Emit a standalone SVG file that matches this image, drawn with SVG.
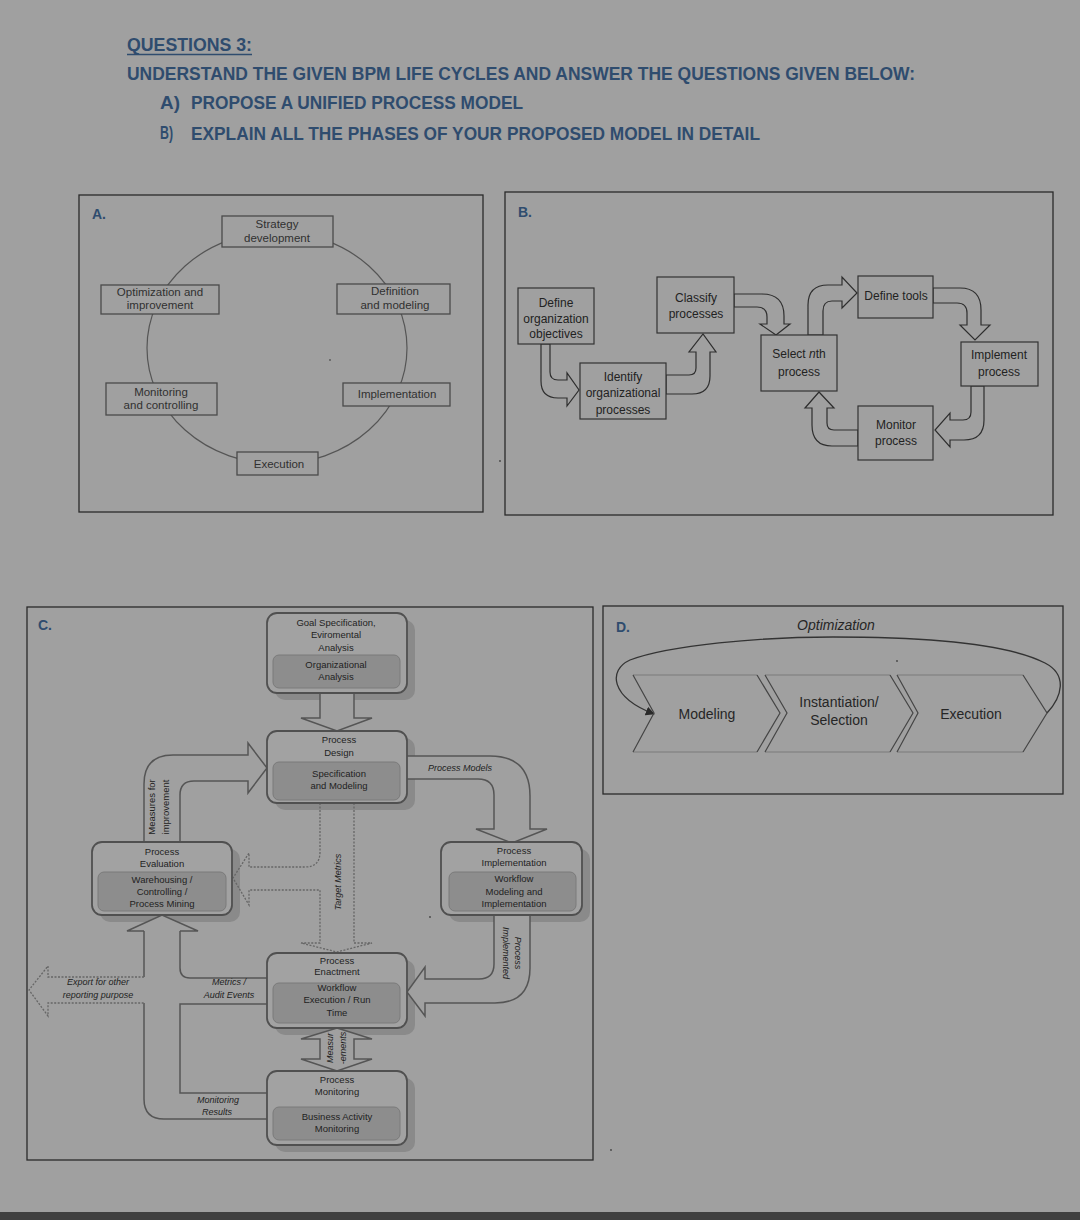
<svg xmlns="http://www.w3.org/2000/svg" width="1080" height="1220" viewBox="0 0 1080 1220">
<style>
.hd{font-family:"Liberation Sans",Arial,sans-serif;font-weight:700;fill:#2f4c6e;font-size:19px}
.lbl{font-family:"Liberation Sans",Arial,sans-serif;font-weight:700;fill:#2f4c6e;font-size:14px}
.frame{fill:none;stroke:#2a2a2a;stroke-width:1.3}
.abox{fill:#a0a0a0;stroke:#4a4a4a;stroke-width:1.3}
.at{font-family:"Liberation Sans",Arial,sans-serif;font-size:11.5px;fill:#303030;text-anchor:middle}
.bbox{fill:#a0a0a0;stroke:#333;stroke-width:1.2}
.bt{font-family:"Liberation Sans",Arial,sans-serif;font-size:12px;fill:#222;text-anchor:middle}
.barr{fill:#a0a0a0;stroke:#2e2e2e;stroke-width:1.2;stroke-linejoin:miter}
.cbox{fill:#a2a2a2;stroke:#505050;stroke-width:1.8}
.cin{fill:#8d8d8d;stroke:#7a7a7a;stroke-width:1}
.csh{fill:#8a8a8a}
.ct{font-family:"Liberation Sans",Arial,sans-serif;font-size:9.5px;fill:#222;text-anchor:middle}
.cti{font-family:"Liberation Sans",Arial,sans-serif;font-size:9px;font-style:italic;fill:#222;text-anchor:middle}
.carr{fill:#a0a0a0;stroke:#555;stroke-width:1.5;stroke-linejoin:miter}
.cline{fill:none;stroke:#555;stroke-width:1.5}
.cdash{fill:none;stroke:#666;stroke-width:1.3;stroke-dasharray:2 1.5}
.dchev{fill:none;stroke:#454545;stroke-width:1.2}
.dedge{fill:none;stroke:#7a7a7a;stroke-width:1}
.dt{font-family:"Liberation Sans",Arial,sans-serif;font-size:14px;fill:#262626;text-anchor:middle}
</style>
<defs>
<marker id="dh" viewBox="0 0 10 10" refX="9" refY="5" markerWidth="7" markerHeight="7" orient="auto">
<path d="M0,0 L10,5 L0,10 Z" fill="#2a2a2a"/>
</marker>
</defs>
<rect x="0" y="0" width="1080" height="1220" fill="#a0a0a0"/>
<rect x="0" y="1212" width="1080" height="8" fill="#404040"/>

<!-- Header -->
<g id="header">
<text class="hd" x="127" y="51" textLength="125" lengthAdjust="spacingAndGlyphs">QUESTIONS 3:</text>
<line x1="127" y1="54.5" x2="252" y2="54.5" stroke="#2f4c6e" stroke-width="1.3"/>
<text class="hd" x="127" y="80" textLength="788" lengthAdjust="spacingAndGlyphs">UNDERSTAND THE GIVEN BPM LIFE CYCLES AND ANSWER THE QUESTIONS GIVEN BELOW:</text>
<text class="hd" x="160" y="109" textLength="20" lengthAdjust="spacingAndGlyphs">A)</text>
<text class="hd" x="191" y="109" textLength="332" lengthAdjust="spacingAndGlyphs">PROPOSE A UNIFIED PROCESS MODEL</text>
<text class="hd" x="160" y="139" font-size="13" font-weight="400" textLength="13" lengthAdjust="spacingAndGlyphs">B)</text>
<text class="hd" x="191" y="140" textLength="569" lengthAdjust="spacingAndGlyphs">EXPLAIN ALL THE PHASES OF YOUR PROPOSED MODEL IN DETAIL</text>
</g>

<!-- Panel A -->
<g id="panelA">
<rect class="frame" x="79" y="195" width="404" height="317"/>
<text class="lbl" x="92" y="219">A.</text>
<g id="connectorsA">
<ellipse cx="277" cy="348" rx="130" ry="116" fill="none" stroke="#555" stroke-width="1.2"/>
</g>
<circle cx="330" cy="360" r="0.9" fill="#555"/>
<g id="a-strategy"><rect class="abox" x="222" y="216" width="111" height="31"/><text class="at" x="277" y="228">Strategy</text><text class="at" x="277" y="242">development</text></g>
<g id="a-definition"><rect class="abox" x="337" y="284" width="113" height="30"/><text class="at" x="395" y="295">Definition</text><text class="at" x="395" y="309">and modeling</text></g>
<g id="a-implementation"><rect class="abox" x="343" y="383" width="107" height="23"/><text class="at" x="397" y="398">Implementation</text></g>
<g id="a-execution"><rect class="abox" x="237" y="452" width="81" height="23"/><text class="at" x="279" y="468">Execution</text></g>
<g id="a-monitoring"><rect class="abox" x="106" y="383" width="111" height="32"/><text class="at" x="161" y="396">Monitoring</text><text class="at" x="161" y="409">and controlling</text></g>
<g id="a-optimization"><rect class="abox" x="101" y="285" width="118" height="29"/><text class="at" x="160" y="296">Optimization and</text><text class="at" x="160" y="309">improvement</text></g>
</g>

<circle cx="500" cy="461" r="0.9" fill="#444"/>

<!-- Panel B -->
<g id="panelB">
<rect class="frame" x="505" y="192" width="548" height="323"/>
<text class="lbl" x="518" y="217">B.</text>
<g id="connectorsB">
<path class="barr" d="M550,344 L550,372 Q550,380 558,380 L567,380 L567,373 L579,390 L567,406 L567,398 L558,398 Q541,398 541,381 L541,344 Z"/>
<path class="barr" d="M666,375 L689,375 Q696,375 696,368 L696,352 L689,352 L703,334 L716,352 L710,352 L710,376 Q710,394 692,394 L666,394 Z"/>
<path class="barr" d="M734,294 L762,294 Q784,294 784,316 L784,324 L790,324 L776,335 L760,324 L767,324 L767,317 Q767,307 757,307 L734,307 Z"/>
<path class="barr" d="M808,335 L808,305 Q808,285 828,285 L842,285 L842,277 L857,293 L842,308 L842,301 L832,301 Q823,301 823,311 L823,335 Z"/>
<path class="barr" d="M933,288 L960,288 Q981,288 981,310 L981,325 L990,325 L975,340 L960,325 L967,325 L967,313 Q967,303 957,303 L933,303 Z"/>
<path class="barr" d="M971,386 L971,412 Q971,420 963,420 L950,420 L950,413 L935,430 L950,447 L950,440 L964,440 Q984,440 984,420 L984,386 Z"/>
<path class="barr" d="M858,430 L834,430 Q827,430 827,423 L827,408 L834,408 L819,392 L805,408 L812,408 L812,425 Q812,446 832,446 L858,446 Z"/>
</g>
<g id="b-define"><rect class="bbox" x="518" y="288" width="76" height="56"/><text class="bt" x="556" y="307">Define</text><text class="bt" x="556" y="323">organization</text><text class="bt" x="556" y="338">objectives</text></g>
<g id="b-identify"><rect class="bbox" x="580" y="363" width="86" height="56"/><text class="bt" x="623" y="381">Identify</text><text class="bt" x="623" y="397">organizational</text><text class="bt" x="623" y="414">processes</text></g>
<g id="b-classify"><rect class="bbox" x="657" y="277" width="77" height="56"/><text class="bt" x="696" y="302">Classify</text><text class="bt" x="696" y="318">processes</text></g>
<g id="b-select"><rect class="bbox" x="761" y="335" width="76" height="56"/><text class="bt" x="799" y="358">Select <tspan font-style="italic">n</tspan>th</text><text class="bt" x="799" y="376">process</text></g>
<g id="b-tools"><rect class="bbox" x="858" y="276" width="75" height="42"/><text class="bt" x="896" y="300">Define tools</text></g>
<g id="b-implement"><rect class="bbox" x="961" y="342" width="77" height="44"/><text class="bt" x="999" y="359">Implement</text><text class="bt" x="999" y="376">process</text></g>
<g id="b-monitor"><rect class="bbox" x="858" y="406" width="75" height="54"/><text class="bt" x="896" y="429">Monitor</text><text class="bt" x="896" y="445">process</text></g>
</g>

<!-- Panel C -->
<g id="panelC">
<rect class="frame" x="27" y="607" width="566" height="553"/>
<text class="lbl" x="38" y="630">C.</text>
<g id="shadowsC">
<rect class="csh" x="275" y="620" width="140" height="80" rx="10"/>
<rect class="csh" x="275" y="738" width="140" height="72" rx="10"/>
<rect class="csh" x="100" y="849" width="140" height="73" rx="10"/>
<rect class="csh" x="449" y="849" width="141" height="73" rx="10"/>
<rect class="csh" x="275" y="960" width="140" height="75" rx="10"/>
<rect class="csh" x="275" y="1078" width="140" height="74" rx="10"/>
</g>
<g id="connectorsC">
<path class="carr" d="M320,693 L320,718 L301,718 L337,731 L372,718 L354,718 L354,693"/>
<path class="carr" d="M144,842 L144,784 Q144,755 173,755 L248,755 L248,743 L267,768 L248,793 L248,781 L194,781 Q180,781 180,795 L180,842"/>
<path class="carr" d="M407,756 L490,756 Q530,756 530,796 L530,829 L547,829 L512,843 L476,829 L494,829 L494,795 Q494,779 478,779 L407,779"/>
<path class="cdash" d="M320,803 L320,852 Q320,867 305,867 L249,867 L249,853 L233,878 L249,905 L249,890 L320,890 L320,943 L301,943 L337,952 L372,943 L354,943 L354,803"/>
<path class="carr" d="M494,915 L494,964 Q494,979 479,979 L425,979 L425,967 L407,992 L425,1016 L425,1003 L495,1003 Q530,1003 530,968 L530,915"/>
<path class="carr" d="M337,1028 L372,1039 L354,1039 L354,1059 L372,1059 L337,1071 L301,1059 L320,1059 L320,1039 L301,1039 Z"/>
<path class="carr" d="M144,931 L127,931 L162,915 L198,931 L180,931"/>
<path class="cline" d="M144,931 L144,977 M144,1003 L144,1099 Q144,1119 164,1119 L267,1119"/>
<path class="cline" d="M180,931 L180,968 Q180,978 190,978 L267,978 M267,1004 L180,1004 L180,1093 L267,1093"/>
<path class="cdash" d="M144,977 L48,977 L48,966 L29,990 L48,1016 L48,1003 L144,1003"/>
</g>
<text class="ct" transform="translate(155,807) rotate(-90)">Measures for</text>
<text class="ct" transform="translate(169,807) rotate(-90)">improvement</text>
<text class="cti" x="460" y="771">Process Models</text>
<text class="cti" transform="translate(341,882) rotate(-90)">Target Metrics</text>
<text class="cti" transform="translate(503,953) rotate(90)">Implemented</text>
<text class="cti" transform="translate(515,953) rotate(90)">Process</text>
<text class="cti" transform="translate(333,1048) rotate(-90)">Measur</text>
<text class="cti" transform="translate(346,1048) rotate(-90)">-ements</text>
<text class="cti" x="229" y="985">Metrics /</text>
<text class="cti" x="229" y="998">Audit Events</text>
<text class="cti" x="98" y="985">Export for other</text>
<text class="cti" x="98" y="998" font-size="8">reporting purpose</text>
<text class="cti" x="218" y="1103">Monitoring</text>
<text class="cti" x="217" y="1115">Results</text>
<circle cx="430" cy="917" r="0.9" fill="#444"/>
<g id="c-goal"><rect class="cbox" x="267" y="613" width="140" height="80" rx="10"/><rect class="cin" x="273" y="655" width="127" height="33" rx="6"/><text class="ct" x="336" y="626">Goal Specification,</text><text class="ct" x="336" y="638">Eviromental</text><text class="ct" x="336" y="651">Analysis</text><text class="ct" x="336" y="668">Organizational</text><text class="ct" x="336" y="680">Analysis</text></g>
<g id="c-design"><rect class="cbox" x="267" y="731" width="140" height="72" rx="10"/><rect class="cin" x="273" y="762" width="127" height="38" rx="6"/><text class="ct" x="339" y="743" font-size="8.5">Process</text><text class="ct" x="339" y="756">Design</text><text class="ct" x="339" y="777">Specification</text><text class="ct" x="339" y="789">and Modeling</text></g>
<g id="c-evaluation"><rect class="cbox" x="92" y="842" width="140" height="73" rx="10"/><rect class="cin" x="98" y="872" width="128" height="39" rx="6"/><text class="ct" x="162" y="855">Process</text><text class="ct" x="162" y="867">Evaluation</text><text class="ct" x="162" y="883">Warehousing /</text><text class="ct" x="162" y="895">Controlling /</text><text class="ct" x="162" y="907">Process Mining</text></g>
<g id="c-implementation"><rect class="cbox" x="441" y="842" width="141" height="73" rx="10"/><rect class="cin" x="449" y="872" width="127" height="39" rx="6"/><text class="ct" x="514" y="854">Process</text><text class="ct" x="514" y="866">Implementation</text><text class="ct" x="514" y="882">Workflow</text><text class="ct" x="514" y="895">Modeling and</text><text class="ct" x="514" y="907">Implementation</text></g>
<g id="c-enactment"><rect class="cbox" x="267" y="953" width="140" height="75" rx="10"/><rect class="cin" x="273" y="983" width="127" height="40" rx="6"/><text class="ct" x="337" y="964" font-size="8.5">Process</text><text class="ct" x="337" y="975">Enactment</text><text class="ct" x="337" y="991">Workflow</text><text class="ct" x="337" y="1003">Execution / Run</text><text class="ct" x="337" y="1016">Time</text></g>
<g id="c-monitoring"><rect class="cbox" x="267" y="1071" width="140" height="74" rx="10"/><rect class="cin" x="273" y="1107" width="127" height="33" rx="6"/><text class="ct" x="337" y="1083" font-size="8.5">Process</text><text class="ct" x="337" y="1095">Monitoring</text><text class="ct" x="337" y="1120">Business Activity</text><text class="ct" x="337" y="1132">Monitoring</text></g>
</g>

<circle cx="611" cy="1150" r="0.9" fill="#444"/>

<!-- Panel D -->
<g id="panelD">
<rect class="frame" x="603" y="606" width="460" height="188"/>
<text class="lbl" x="616" y="632">D.</text>
<text class="dt" x="836" y="630" font-style="italic" font-size="14.5">Optimization</text>
<circle cx="897" cy="661" r="0.9" fill="#444"/>
<g id="connectorsD">
<path d="M1047,713 C1062,697 1068,675 1045,663 C1000,640 900,637 833,637 C760,637 670,645 630,660 C608,670 610,697 654,714" fill="none" stroke="#333" stroke-width="1.3" marker-end="url(#dh)"/>
</g>
<g id="d-modeling"><path class="dedge" d="M633,675 L757,675 M757,752 L633,752"/><polyline class="dchev" points="633,675 654,713 633,752"/><polyline class="dchev" points="757,675 780,713 757,752"/><text class="dt" x="707" y="719">Modeling</text></g>
<g id="d-instantiation"><path class="dedge" d="M765,675 L890,675 M890,752 L765,752"/><polyline class="dchev" points="765,675 787,713 765,752"/><polyline class="dchev" points="890,675 913,713 890,752"/><text class="dt" x="839" y="707">Instantiation/</text><text class="dt" x="839" y="725">Selection</text></g>
<g id="d-execution"><path class="dedge" d="M897,675 L1023,675 M1023,752 L897,752"/><polyline class="dchev" points="897,675 918,713 897,752"/><polyline class="dchev" points="1023,675 1047,713 1023,752"/><text class="dt" x="971" y="719">Execution</text></g>
</g>
</svg>
